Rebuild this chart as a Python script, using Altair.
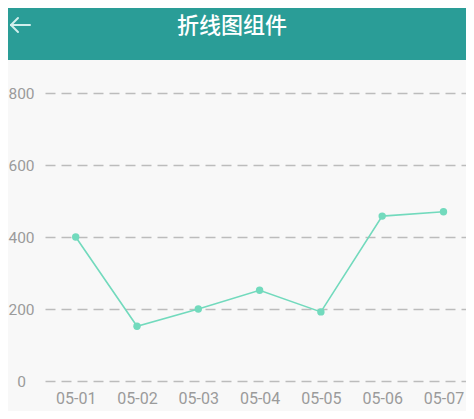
import altair as alt
import pandas as pd

dates = ["05-01", "05-02", "05-03", "05-04", "05-05", "05-06", "05-07"]
values = [400, 152, 200, 252, 192, 458, 470]
y_ticks = [0, 200, 400, 600, 800]
title_text = "折线图组件"

df = pd.DataFrame({"date": dates, "value": values})

TEAL = "#2a9d97"
MINT = "#72dabd"
GRAY = "#9b9b9b"

TOP = 85
one = alt.Data(values=[{}])

header = alt.Chart(one).mark_rect(color=TEAL).encode(
    x=alt.value(-37), x2=alt.value(421), y=alt.value(-TOP), y2=alt.value(52 - TOP)
)
title = alt.Chart(one).mark_text(
    text=title_text, font="Noto Sans CJK SC", fontSize=22, fontWeight=500, color="white",
    align="center", baseline="middle"
).encode(x=alt.value(187), y=alt.value(18 - TOP))

arrow_col = "#d2efed"
ay = 17 - TOP
a1 = alt.Chart(one).mark_rule(color=arrow_col, strokeWidth=2, strokeCap="round").encode(
    x=alt.value(-34), x2=alt.value(-15), y=alt.value(ay), y2=alt.value(ay))
a2 = alt.Chart(one).mark_rule(color=arrow_col, strokeWidth=2, strokeCap="round").encode(
    x=alt.value(-34), x2=alt.value(-27), y=alt.value(ay), y2=alt.value(ay - 7))
a3 = alt.Chart(one).mark_rule(color=arrow_col, strokeWidth=2, strokeCap="round").encode(
    x=alt.value(-34), x2=alt.value(-27), y=alt.value(ay), y2=alt.value(ay + 7))

x_enc = alt.X(
    "date:O",
    sort=dates,
    scale=alt.Scale(type="point", padding=0.434, align=0.577),
    axis=alt.Axis(
        title=None, domain=False, ticks=False, labelAngle=0, labelFontSize=16,
        labelColor=GRAY, labelPadding=9, grid=False, labelFont="Roboto",
    ),
)
y_enc = alt.Y(
    "value:Q",
    scale=alt.Scale(domain=[0, 800], nice=False, zero=True),
    axis=alt.Axis(
        title=None, values=y_ticks, grid=True, gridDash=[10, 6], gridColor="#bcbcbc",
        gridWidth=1.5, domain=False, ticks=False, labelFontSize=15.5, labelAlign="center",
        labelPadding=24, labelColor=GRAY, labelFont="Roboto",
    ),
)

base = alt.Chart(df)
line = base.mark_line(color=MINT, strokeWidth=1.6).encode(x=x_enc, y=y_enc)
points = base.mark_point(filled=True, size=55, opacity=1, color=MINT).encode(x=x_enc, y=y_enc)

chart = alt.layer(header, title, a1, a2, a3, line, points).properties(
    width=421, height=288,
    autosize=alt.AutoSizeParams(type="none"),
    padding={"left": 37, "top": TOP, "right": 0, "bottom": 403 - TOP - 288},
    background="#f8f8f8",
).configure_view(stroke=None)

chart.save("out.html", embed_options={"renderer": "svg", "actions": False})
